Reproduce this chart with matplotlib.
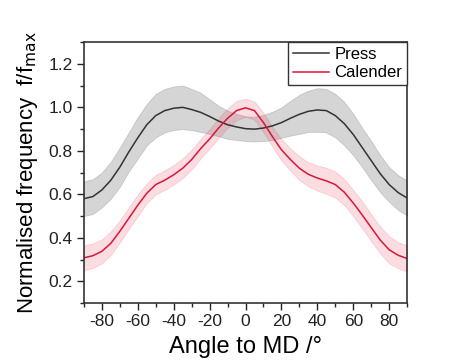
import matplotlib
matplotlib.use("Agg")
import matplotlib.pyplot as plt
from matplotlib.ticker import MultipleLocator
import numpy as np

plt.rcParams['font.family'] = ['Liberation Sans', 'DejaVu Sans']
plt.rcParams['axes.unicode_minus'] = False

# angle to MD (degrees)
angle = np.arange(-90, 91, 5)

press_mean = [0.58, 0.59, 0.62, 0.665, 0.725, 0.795, 0.86, 0.92, 0.962, 0.985, 0.996, 1.0,
              0.99, 0.977, 0.958, 0.937, 0.92, 0.91, 0.902, 0.90, 0.905, 0.915, 0.93, 0.95,
              0.968, 0.982, 0.988, 0.985, 0.962, 0.925, 0.875, 0.815, 0.755, 0.695, 0.645,
              0.608, 0.583]
press_sd = [0.08, 0.08, 0.08, 0.085, 0.09, 0.09, 0.095, 0.095, 0.1, 0.1, 0.1, 0.1,
            0.095, 0.09, 0.08, 0.07, 0.065, 0.06, 0.057, 0.057, 0.06, 0.065, 0.07, 0.08,
            0.09, 0.095, 0.1, 0.1, 0.1, 0.1, 0.095, 0.09, 0.09, 0.085, 0.08, 0.08, 0.08]

cal_mean = [0.308, 0.318, 0.338, 0.375, 0.43, 0.49, 0.55, 0.605, 0.645, 0.665, 0.69, 0.72,
            0.76, 0.81, 0.855, 0.905, 0.95, 0.985, 0.998, 0.985, 0.93, 0.865, 0.805, 0.76,
            0.72, 0.692, 0.675, 0.662, 0.645, 0.61, 0.56, 0.505, 0.447, 0.39, 0.345, 0.32,
            0.305]
cal_sd = [0.057, 0.057, 0.055, 0.055, 0.05, 0.05, 0.05, 0.045, 0.045, 0.045, 0.045, 0.045,
          0.045, 0.045, 0.045, 0.045, 0.045, 0.045, 0.042, 0.042, 0.045, 0.045, 0.05, 0.05,
          0.055, 0.055, 0.058, 0.06, 0.06, 0.06, 0.06, 0.062, 0.062, 0.062, 0.062, 0.06, 0.06]

press_mean, press_sd = np.array(press_mean), np.array(press_sd)
cal_mean, cal_sd = np.array(cal_mean), np.array(cal_sd)

fig = plt.figure(figsize=(4.74, 3.63), dpi=100)
ax = fig.add_axes([0.177, 0.165, 0.682, 0.719])

# bands
ax.fill_between(angle, press_mean - press_sd, press_mean + press_sd,
                color='#7f7f7f', alpha=0.32, linewidth=0.6)
ax.fill_between(angle, cal_mean - cal_sd, cal_mean + cal_sd,
                color='#e8304a', alpha=0.17, linewidth=0.6)

ax.plot(angle, press_mean, color='#333333', lw=1.1, label='Press')
ax.plot(angle, cal_mean, color='#d8163c', lw=1.1, label='Calender')

ax.set_xlim(-90, 90)
ax.set_ylim(0.1, 1.3)
ax.xaxis.set_minor_locator(MultipleLocator(10))
ax.yaxis.set_minor_locator(MultipleLocator(0.1))
ax.set_xticks(np.arange(-80, 81, 20))
ax.set_yticks(np.arange(0.2, 1.21, 0.2))
ax.set_yticklabels([f'{v:.1f}' for v in np.arange(0.2, 1.21, 0.2)])

ax.tick_params(which='major', direction='out', length=5, width=1, labelsize=12.5,
               colors='#222222', pad=3)
ax.tick_params(which='minor', direction='out', length=3, width=1, colors='#222222')
for s in ax.spines.values():
    s.set_linewidth(1.2)
    s.set_color('#333333')

ax.set_xlabel('Angle to MD /°', fontsize=17, labelpad=5)
ax.set_ylabel(r'Normalised frequency  f/f$_{\rm max}$', fontsize=16, labelpad=6)

leg = ax.legend(loc='upper right', borderaxespad=0, fontsize=12, handlelength=2.2,
                handletextpad=0.3, fancybox=False, framealpha=1, edgecolor='#333333',
                borderpad=0.3, labelspacing=0.2)
leg.get_frame().set_linewidth(1.0)

fig.savefig('out.png', dpi=100)
